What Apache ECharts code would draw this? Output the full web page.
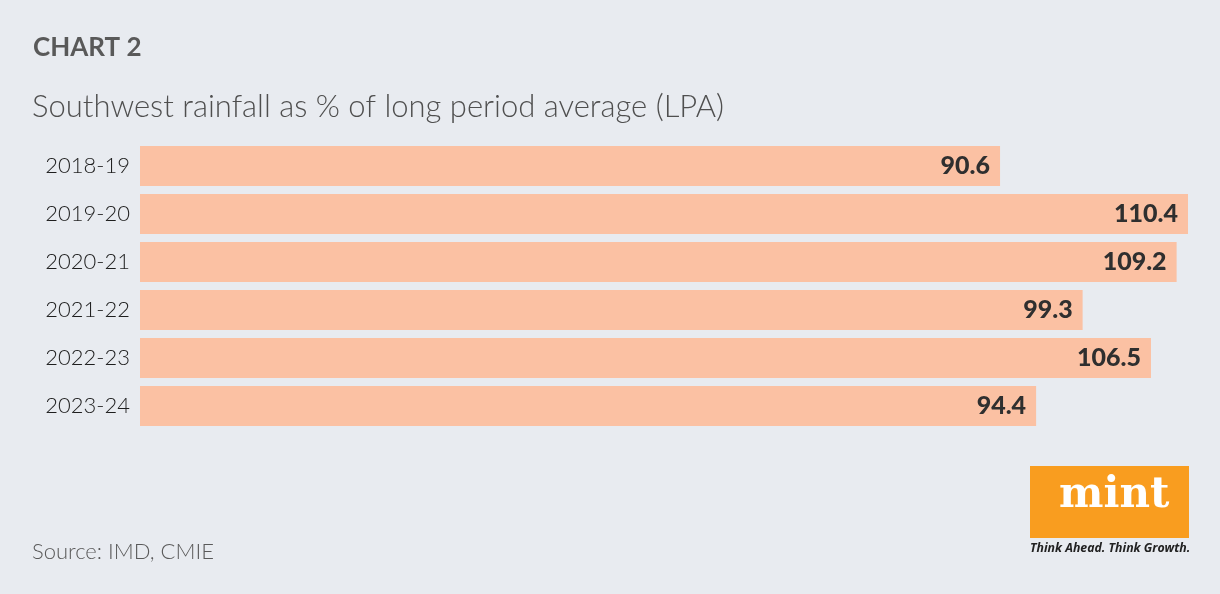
<!DOCTYPE html>
<html>
<head>
<meta charset="utf-8">
<script src="https://cdn.jsdelivr.net/npm/echarts@6/dist/echarts.min.js"></script>
<style>
  html, body { margin: 0; padding: 0; background: #e8ebf0; }
  #chart { width: 1220px; height: 594px; }
</style>
</head>
<body>
<div id="chart"></div>
<script>
// data
const years = ['2018-19', '2019-20', '2020-21', '2021-22', '2022-23', '2023-24'];
const lpaPct = [90.6, 110.4, 109.2, 99.3, 106.5, 94.4];

const chart = echarts.init(document.getElementById('chart'));

const option = {
  backgroundColor: '#e8ebf0',
  animation: false,
  title: [
    {
      text: 'CHART 2',
      left: 28, top: 30,
      textStyle: { fontFamily: 'Lato', fontWeight: 'bold', fontSize: 26, color: '#595959' }
    },
    {
      text: 'Southwest rainfall as % of long period average (LPA)',
      left: 27, top: 86,
      textStyle: { fontFamily: 'Lato', fontWeight: 300, fontSize: 31, color: '#4f4f4f' }
    },
    {
      text: 'Source: IMD, CMIE',
      left: 27, top: 536,
      textStyle: { fontFamily: 'Lato', fontWeight: 300, fontSize: 22, color: '#5a5a5a' }
    }
  ],
  grid: { left: 140, top: 142, width: 1048, height: 288, containLabel: false },
  xAxis: {
    type: 'value', min: 0, max: 110.4, show: false
  },
  yAxis: {
    type: 'category',
    data: years,
    inverse: true,
    axisLine: { show: false },
    axisTick: { show: false },
    axisLabel: {
      margin: 10,
      fontFamily: 'Lato', fontWeight: 300, fontSize: 22, color: '#1e1e1e'
    }
  },
  series: [{
    type: 'bar',
    data: lpaPct,
    barWidth: 40,
    itemStyle: { color: '#fbc1a3' },
    label: {
      show: true,
      position: 'insideRight',
      distance: 10,
      fontFamily: 'Lato', fontWeight: 900, fontSize: 25, color: '#2f2f2f',
      formatter: p => p.value.toFixed(1)
    }
  }],
  graphic: [
    {
      type: 'rect', left: 1030, top: 466,
      shape: { width: 159, height: 72 },
      style: { fill: '#f99d1f' }
    },
    {
      type: 'text', left: 1059, top: 475,
      style: {
        text: 'mint', fill: '#ffffff',
        font: 'bold 42px "DejaVu Serif", serif'
      }
    },
    {
      type: 'text', left: 1030, top: 542,
      style: {
        text: 'Think Ahead. Think Growth.', fill: '#222',
        font: 'italic bold 12.3px "Open Sans", sans-serif'
      }
    }
  ]
};

chart.setOption(option);
</script>
</body>
</html>
